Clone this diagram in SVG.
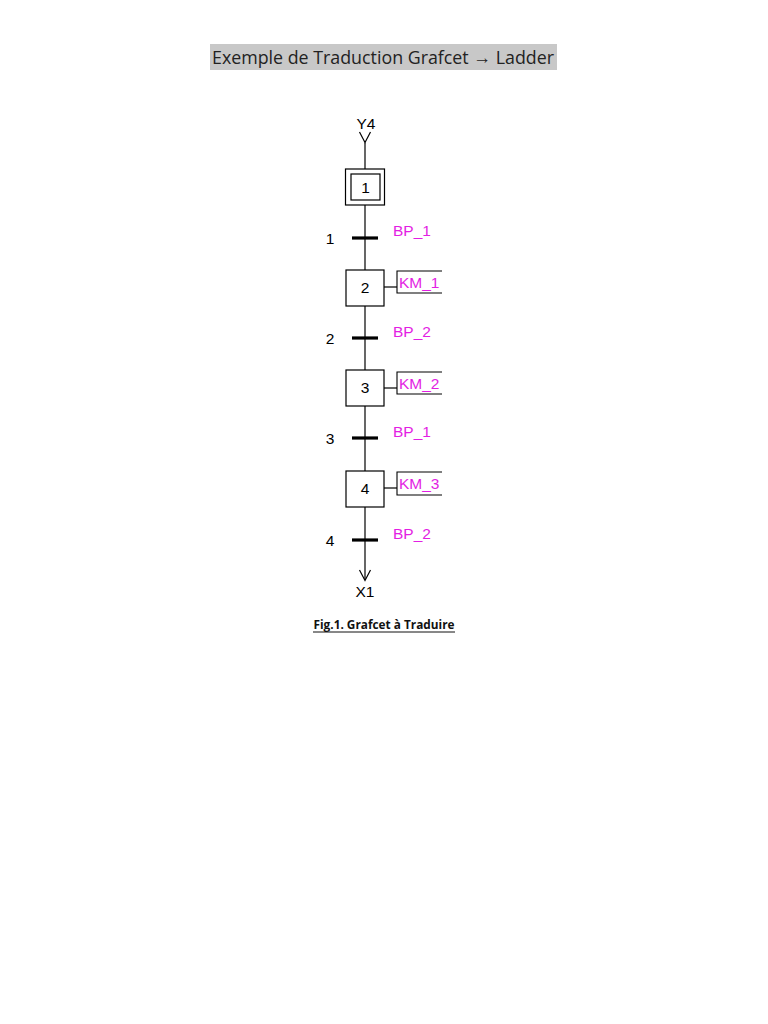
<svg xmlns="http://www.w3.org/2000/svg" width="768" height="1024" viewBox="0 0 768 1024">
<style>
.ln{stroke:#000;stroke-width:1.2;fill:none}
.box{stroke:#000;stroke-width:1.2;fill:#fff}
.abox{stroke:#000;stroke-width:1.1;fill:#fff}
.tr{stroke:#000;stroke-width:3.2}
.t{font-family:"Liberation Sans",Arial,sans-serif;font-size:15.5px;fill:#000}
.m{font-family:"Liberation Sans",Arial,sans-serif;font-size:15.5px;fill:#e31ee3}
.ttl{font-family:"Open Sans","Noto Sans",sans-serif;font-size:19px;fill:#222}
</style>
<rect width="768" height="1024" fill="#fff"/>
<g id="title">
<rect x="210" y="44" width="347" height="26" fill="#c8c8c8"/>
<text class="ttl" x="212" y="64" textLength="342" lengthAdjust="spacingAndGlyphs">Exemple de Traduction Grafcet → Ladder</text>
</g>
<g id="connectors">
<line class="ln" x1="365" y1="142.5" x2="365" y2="169"/>
<polyline class="ln" points="359.5,132 365,142.5 370.5,132"/>
<line class="ln" x1="365" y1="205" x2="365" y2="270"/>
<line class="ln" x1="365" y1="306" x2="365" y2="370"/>
<line class="ln" x1="365" y1="406" x2="365" y2="471"/>
<line class="ln" x1="365" y1="507" x2="365" y2="580"/>
<polyline class="ln" points="359.5,570 365,580.5 370.5,570"/>
<line class="ln" x1="384" y1="287" x2="397" y2="287"/>
<line class="ln" x1="384" y1="388" x2="397" y2="388"/>
<line class="ln" x1="384" y1="488" x2="397" y2="488"/>
</g>
<text class="t" x="366" y="129" text-anchor="middle">Y4</text>
<text class="t" x="365" y="597" text-anchor="middle">X1</text>
<g id="step1">
<rect class="box" x="345.5" y="169" width="39" height="36"/>
<rect class="box" x="351" y="174" width="29" height="26"/>
<text class="t" x="365.5" y="193" text-anchor="middle">1</text>
</g>
<g id="t1">
<line class="tr" x1="352" y1="238" x2="378" y2="238"/>
<text class="t" x="330" y="244" text-anchor="middle">1</text>
<text class="m" x="393" y="236">BP_1</text>
</g>
<g id="step2">
<rect class="box" x="346" y="270" width="38" height="36"/>
<text class="t" x="365" y="293" text-anchor="middle">2</text>
</g>
<g id="a2">
<path class="abox" d="M442,271 H397 V293 H442"/>
<text class="m" x="399" y="288">KM_1</text>
</g>
<g id="t2">
<line class="tr" x1="352" y1="338" x2="378" y2="338"/>
<text class="t" x="330" y="344" text-anchor="middle">2</text>
<text class="m" x="393" y="337">BP_2</text>
</g>
<g id="step3">
<rect class="box" x="346" y="370" width="38" height="36"/>
<text class="t" x="365" y="393" text-anchor="middle">3</text>
</g>
<g id="a3">
<path class="abox" d="M442,372 H397 V394 H442"/>
<text class="m" x="399" y="389">KM_2</text>
</g>
<g id="t3">
<line class="tr" x1="352" y1="438" x2="378" y2="438"/>
<text class="t" x="330" y="444" text-anchor="middle">3</text>
<text class="m" x="393" y="437">BP_1</text>
</g>
<g id="step4">
<rect class="box" x="346" y="471" width="38" height="36"/>
<text class="t" x="365" y="494" text-anchor="middle">4</text>
</g>
<g id="a4">
<path class="abox" d="M442,472 H397 V495 H442"/>
<text class="m" x="399" y="489">KM_3</text>
</g>
<g id="t4">
<line class="tr" x1="352" y1="540" x2="378" y2="540"/>
<text class="t" x="330" y="546" text-anchor="middle">4</text>
<text class="m" x="393" y="539">BP_2</text>
</g>
<g id="caption">
<text x="384" y="629" text-anchor="middle" font-family="'Open Sans','Noto Sans',sans-serif" font-size="11.5" font-weight="bold" fill="#111" textLength="141" lengthAdjust="spacingAndGlyphs">Fig.1. Grafcet à Traduire</text>
<line x1="313" y1="632" x2="455" y2="632" stroke="#111" stroke-width="1"/>
</g>
</svg>
